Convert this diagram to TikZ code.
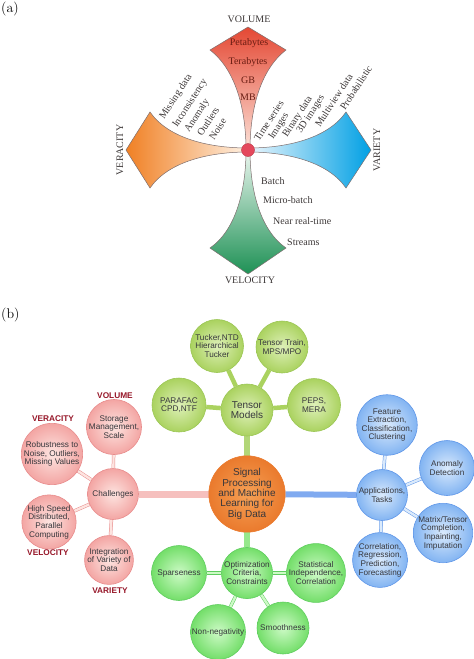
\documentclass[tikz,border=0pt]{standalone}
\usepackage{amsmath, amssymb}
\usepackage{fontspec}
\usepackage{tikz}
\usetikzlibrary{calc, backgrounds}
\newfontfamily\armfont{Liberation Serif}
\newfontfamily\bubfont{Liberation Sans}

\definecolor{volred}{RGB}{228,72,52}
\definecolor{volpale}{RGB}{252,226,216}
\definecolor{verorange}{RGB}{240,128,36}
\definecolor{verpale}{RGB}{255,242,228}
\definecolor{varblue}{RGB}{0,160,228}
\definecolor{varpale}{RGB}{236,246,253}
\definecolor{velgreen}{RGB}{30,145,85}
\definecolor{velpale}{RGB}{236,247,240}
\definecolor{armedge}{RGB}{125,110,110}
\definecolor{voltext}{RGB}{105,28,18}
\definecolor{armgray}{RGB}{60,55,55}
\definecolor{chalin}{RGB}{253,228,224}
\definecolor{chalout}{RGB}{243,165,163}
\definecolor{chaledge}{RGB}{232,140,140}
\definecolor{tensin}{RGB}{222,240,185}
\definecolor{tensout}{RGB}{170,210,95}
\definecolor{tensedge}{RGB}{155,198,85}
\definecolor{optin}{RGB}{205,250,198}
\definecolor{optout}{RGB}{115,222,105}
\definecolor{optedge}{RGB}{95,205,95}
\definecolor{appin}{RGB}{218,234,252}
\definecolor{appout}{RGB}{130,180,242}
\definecolor{appedge}{RGB}{95,150,232}
\definecolor{corein}{RGB}{245,160,85}
\definecolor{coreout}{RGB}{234,122,45}
\definecolor{vtag}{RGB}{150,22,40}
\definecolor{bubtext}{RGB}{55,55,60}

\begin{document}
\begin{tikzpicture}[x=1pt, y=-1pt,
    armline/.style={draw=armedge, line width=0.5pt},
    armtext/.style={font=\armfont\fontsize{10}{12}\selectfont, text=armgray, inner sep=1pt},
    voltag/.style={font=\armfont\fontsize{10}{12}\selectfont, text=voltext, inner sep=1pt},
    slant/.style={armtext, rotate=57, anchor=base west, inner sep=0pt},
    bub/.style={circle, inner sep=0pt, align=center, text=bubtext,
      font=\bubfont\fontsize{8.2}{8.6}\selectfont, line width=0.6pt},
    chal/.style={bub, draw=chaledge, inner color=chalin, outer color=chalout},
    tens/.style={bub, draw=tensedge, inner color=tensin, outer color=tensout},
    opt/.style={bub, draw=optedge, inner color=optin, outer color=optout},
    app/.style={bub, draw=appedge, inner color=appin, outer color=appout},
    vtagtext/.style={font=\bubfont\bfseries\fontsize{8.3}{9}\selectfont, text=vtag},
    hubbar/.style={line width=6pt},
    twin/.style={line width=0.5pt, double distance=2.4pt}]

\useasboundingbox (0,0) rectangle (474,659);

% ---------- (a) the four V's ----------
\node[anchor=west, font=\fontsize{14}{16}\selectfont, inner sep=0pt] (la) at (1,9) {(a)};

\path[armline, top color=volred, bottom color=volpale]
  (246,150) .. controls (246,110) and (236,70) .. (210,50) -- (248,27) -- (286,50)
  .. controls (260,70) and (250,110) .. (250,150) -- cycle;
\path[armline, left color=verorange, right color=verpale]
  (248,152) .. controls (208,152) and (168,162) .. (150,188) -- (126,150) -- (150,112)
  .. controls (168,138) and (208,148) .. (248,148) -- cycle;
\path[armline, left color=varpale, right color=varblue]
  (248,148) .. controls (288,148) and (328,138) .. (346,112) -- (371,150) -- (346,188)
  .. controls (328,162) and (288,152) .. (248,152) -- cycle;
\path[armline, top color=velpale, bottom color=velgreen]
  (246,150) .. controls (246,190) and (236,230) .. (210,248) -- (248,274) -- (286,248)
  .. controls (260,230) and (250,190) .. (250,150) -- cycle;
\node[circle, fill={rgb,255:red,228;green,72;blue,92}, draw={rgb,255:red,185;green,55;blue,70},
  minimum size=13pt, inner sep=0pt] (dot) at (248,150) {};

\node[armtext] (volume) at (249,19) {VOLUME};
\node[voltag] (peta) at (249,43) {Petabytes};
\node[voltag] (tera) at (248,62) {Terabytes};
\node[voltag] (gb) at (248,80) {GB};
\node[voltag] (mb) at (248,97) {MB};
\node[armtext, rotate=90] (veracity) at (120,150) {VERACITY};
\node[armtext, rotate=90] (variety) at (377,150) {VARIETY};
\node[armtext] (velocity) at (250,280) {VELOCITY};

\node[armtext, anchor=west] (batch) at (260,181) {Batch};
\node[armtext, anchor=west] (micro) at (262,200) {Micro-batch};
\node[armtext, anchor=west] (near) at (272,221) {Near real-time};
\node[armtext, anchor=west] (streams) at (286,242) {Streams};

\node[slant] (miss) at (164,120) {Missing data};
\node[slant] (incon) at (177,128) {Inconsistency};
\node[slant] (anom) at (189,133) {Anomaly};
\node[slant] (outl) at (202,137) {Outliers};
\node[slant] (noise) at (214,141) {Noise};

\node[slant] (times) at (259,142) {Time series};
\node[slant] (images) at (273,140) {Images};
\node[slant] (binary) at (287,138) {Binary data};
\node[slant] (threed) at (301,134) {3D images};
\node[slant] (multi) at (320,128) {Multiview data};
\node[slant] (prob) at (345,111) {Probabilistic};

% ---------- (b) mind map ----------
\node[anchor=west, font=\fontsize{14}{16}\selectfont, inner sep=0pt] (lb) at (1,315) {(b)};

\node[bub, inner color=corein, outer color=coreout, draw=coreout, minimum size=72pt,
  font=\bubfont\fontsize{10}{10.3}\selectfont] (core) at (247,494)
  {Signal\\Processing\\and Machine\\Learning for\\Big Data};

\node[tens, minimum size=52pt, font=\bubfont\fontsize{10}{10.5}\selectfont] (tensor) at (247,410) {Tensor\\Models};
\node[tens, minimum size=54pt] (parafac) at (179,405) {PARAFAC\\CPD,NTF};
\node[tens, minimum size=53pt] (peps) at (314,405) {PEPS,\\MERA};
\node[tens, minimum size=53pt] (tucker) at (217,346) {Tucker,NTD\\Hierarchical\\Tucker};
\node[tens, minimum size=52pt] (ttrain) at (282,347) {Tensor Train,\\MPS/MPO};

\node[chal, minimum size=51pt] (challenges) at (113,494) {Challenges};
\node[chal, minimum size=53pt] (storage) at (114,427) {Storage\\Management,\\Scale};
\node[chal, minimum size=58pt] (robust) at (52,454) {Robustness to\\Noise, Outliers,\\Missing Values};
\node[chal, minimum size=54pt] (speed) at (49,522) {High Speed\\Distributed,\\Parallel\\Computing};
\node[chal, minimum size=48pt] (integ) at (109,560) {Integration\\of Variety of\\Data};
\node[vtagtext] (tvol) at (115,396) {VOLUME};
\node[vtagtext] (tver) at (53,419) {VERACITY};
\node[vtagtext] (tvel) at (48,553) {VELOCITY};
\node[vtagtext] (tvar) at (110,591) {VARIETY};

\node[app, minimum size=51pt] (apps) at (382,495) {Applications,\\Tasks};
\node[app, minimum size=53pt] (feature) at (387,425) {Feature\\Extraction,\\Classification,\\Clustering};
\node[app, minimum size=55pt] (anomaly) at (447,468) {Anomaly\\Detection};
\node[app, minimum size=57pt] (matrix) at (443,533) {Matrix/Tensor\\Completion,\\Inpainting,\\Imputation};
\node[app, minimum size=52pt] (corr) at (380,560) {Correlation,\\Regression,\\Prediction,\\Forecasting};

\node[opt, minimum size=50pt] (optim) at (247,573) {Optimization\\Criteria,\\Constraints};
\node[opt, minimum size=55pt] (sparse) at (179,573) {Sparseness};
\node[opt, minimum size=56pt] (stat) at (316,573) {Statistical\\Independence,\\Correlation};
\node[opt, minimum size=55pt] (nonneg) at (218,632) {Non-negativity};
\node[opt, minimum size=52pt] (smooth) at (283,628) {Smoothness};

\begin{pgfonlayer}{background}
  \draw[hubbar, color={rgb,255:red,178;green,214;blue,120}] (core) -- (tensor);
  \draw[hubbar, line width=7pt, color={rgb,255:red,246;green,192;blue,190}] (core) -- (challenges);
  \draw[hubbar, color={rgb,255:red,128;green,170;blue,240}] (core) -- (apps);
  \draw[hubbar, color={rgb,255:red,150;green,232;blue,140}] (core) -- (optim);

  \draw[line width=4.5pt, color=tensout] (tensor) -- (parafac);
  \draw[line width=4.5pt, color=tensout] (tensor) -- (peps);
  \draw[line width=4.5pt, color=tensout] (tensor) -- (tucker);
  \draw[line width=4.5pt, color=tensout] (tensor) -- (ttrain);

  \draw[twin, draw=chaledge, double=chalin] (challenges) -- (storage);
  \draw[twin, draw=chaledge, double=chalin] (challenges) -- (robust);
  \draw[twin, draw=chaledge, double=chalin] (challenges) -- (speed);
  \draw[twin, draw=chaledge, double=chalin] (challenges) -- (integ);

  \draw[twin, draw=appedge, double=appin] (apps) -- (feature);
  \draw[twin, draw=appedge, double=appin] (apps) -- (anomaly);
  \draw[twin, draw=appedge, double=appin] (apps) -- (matrix);
  \draw[twin, draw=appedge, double=appin] (apps) -- (corr);

  \draw[twin, draw=optedge, double=optin] (optim) -- (sparse);
  \draw[twin, draw=optedge, double=optin] (optim) -- (stat);
  \draw[twin, draw=optedge, double=optin] (optim) -- (nonneg);
  \draw[twin, draw=optedge, double=optin] (optim) -- (smooth);
\end{pgfonlayer}
\end{tikzpicture}
\end{document}
